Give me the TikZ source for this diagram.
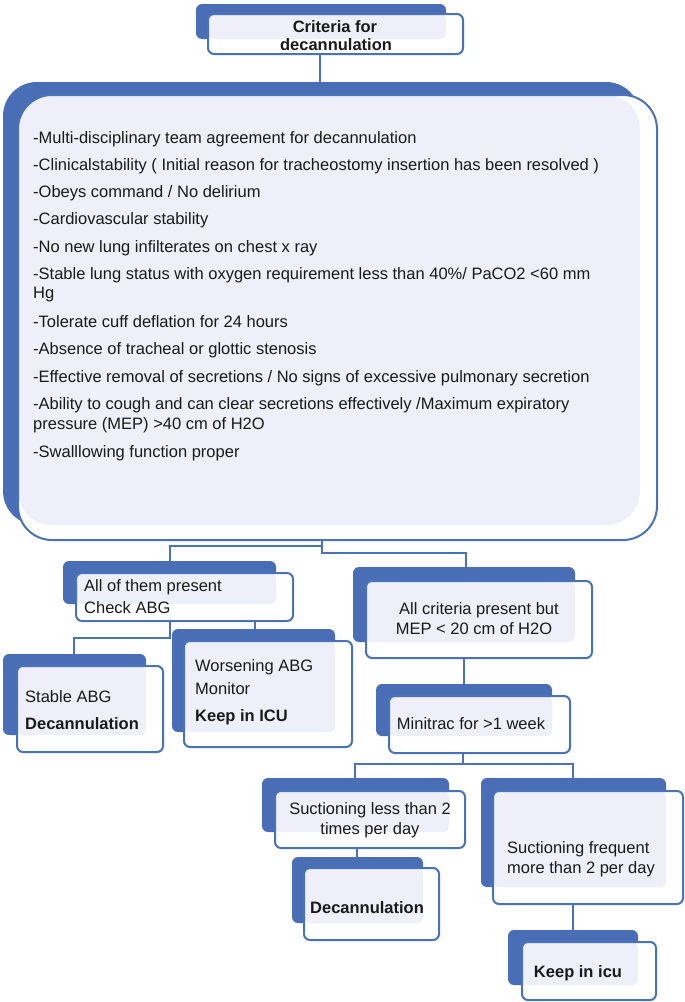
\documentclass[tikz,border=0pt]{standalone}
\usepackage{fontspec}
\setmainfont{Liberation Sans}
\usetikzlibrary{backgrounds}
\definecolor{boxblue}{HTML}{4A6EB5}
\definecolor{bordblue}{HTML}{4A72B9}
\definecolor{lav}{HTML}{EEEFF9}
\definecolor{ink}{HTML}{1A1A1A}
\tikzset{
  bord/.style={draw=bordblue, line width=2pt},
  conn/.style={draw=bordblue, line width=2pt},
  txt/.style={inner sep=0pt, text=ink, font=\fontsize{16.5}{19}\selectfont},
  btxt/.style={txt, font=\fontsize{16.5}{19}\selectfont\bfseries},
}
\newcommand\dbox[6]{%
  \path #2 coordinate (#1-bnw) #3 coordinate (#1-bse) #4 coordinate (#1-nw) #5 coordinate (#1-se);
  \fill[boxblue, rounded corners=#6] (#1-bnw) rectangle (#1-bse);
  \fill[white, rounded corners=#6] (#1-nw) rectangle (#1-se);
  \fill[lav, rounded corners=#6] (#1-nw) rectangle (#1-bse);
  \draw[bord, rounded corners=#6] (#1-nw) rectangle (#1-se);
}
\begin{document}
\begin{tikzpicture}[x=1pt,y=-1pt]
\useasboundingbox (0,0) rectangle (685,1002);

% boxes
\dbox{top}{(196,4)}{(446,39)}{(208,14)}{(463,54)}{6}
\dbox{big}{(3,82)}{(640,525)}{(18,95)}{(657,540)}{34}
\dbox{all}{(63,561)}{(276,604)}{(76,573)}{(293,621)}{6}
\dbox{stable}{(3,654)}{(146,735)}{(17,666)}{(163,752)}{6}
\dbox{worse}{(172,629)}{(335,732)}{(184,641)}{(352,747)}{6}
\dbox{mep}{(353,567)}{(575,642)}{(366,581)}{(592,658)}{6}
\dbox{mini}{(376,684)}{(552,736)}{(389,696)}{(570,753)}{6}
\dbox{sless}{(262,778)}{(449,832)}{(275,791)}{(465,848)}{6}
\dbox{sdec}{(292,857)}{(423,923)}{(304,868)}{(439,940)}{6}
\dbox{sfreq}{(481,778)}{(666,887)}{(493,791)}{(683,904)}{6}
\dbox{kicu}{(508,930)}{(638,985)}{(522,942)}{(656,1000)}{6}

% texts
\node[btxt, anchor=base] (t1) at (335,32) {Criteria for};
\node[btxt, anchor=base] (t2) at (336,50) {decannulation};

\node[txt, anchor=base west] (c1) at (33,143) {-Multi-disciplinary team agreement for decannulation};
\node[txt, anchor=base west] (c2) at (33,170) {-Clinicalstability ( Initial reason for tracheostomy insertion has been resolved )};
\node[txt, anchor=base west] (c3) at (33,197) {-Obeys command / No delirium};
\node[txt, anchor=base west] (c4) at (33,224) {-Cardiovascular stability};
\node[txt, anchor=base west] (c5) at (33,252) {-No new lung infilterates on chest x ray};
\node[txt, anchor=base west] (c6) at (33,279) {-Stable lung status with oxygen requirement less than 40\%/ PaCO2 <60 mm};
\node[txt, anchor=base west] (c6b) at (33,298) {Hg};
\node[txt, anchor=base west] (c7) at (33,327) {-Tolerate cuff deflation for 24 hours};
\node[txt, anchor=base west] (c8) at (33,354) {-Absence of tracheal or glottic stenosis};
\node[txt, anchor=base west] (c9) at (33,382) {-Effective removal of secretions / No signs of excessive pulmonary secretion};
\node[txt, anchor=base west] (c10) at (33,409) {-Ability to cough and can clear secretions effectively /Maximum expiratory};
\node[txt, anchor=base west] (c10b) at (33,429) {pressure (MEP) >40 cm of H2O};
\node[txt, anchor=base west] (c11) at (33,457) {-Swalllowing function proper};

\node[txt, anchor=base west] (a1) at (84,591) {All of them present};
\node[txt, anchor=base west] (a2) at (84,613) {Check ABG};

\node[txt, anchor=base west] (s1) at (25,702) {Stable ABG};
\node[btxt, anchor=base west] (s2) at (25,729) {Decannulation};

\node[txt, anchor=base west] (w1) at (195,671) {Worsening ABG};
\node[txt, anchor=base west] (w2) at (195,694) {Monitor};
\node[btxt, anchor=base west] (w3) at (195,721) {Keep in ICU};

\node[txt, anchor=base] (m1) at (479,614) {All criteria present but};
\node[txt, anchor=base] (m2) at (474,634) {MEP < 20 cm of H2O};

\node[txt, anchor=base] (n1) at (471,729) {Minitrac for >1 week};

\node[txt, anchor=base] (l1) at (370,814) {Suctioning less than 2};
\node[txt, anchor=base] (l2) at (370,834) {times per day};

\node[btxt, anchor=base] (d1) at (367,913) {Decannulation};

\node[txt, anchor=base west] (f1) at (507,853) {Suctioning frequent};
\node[txt, anchor=base west] (f2) at (507,873) {more than 2 per day};

\node[btxt, anchor=base] (k1) at (578,977) {Keep in icu};

% connector points
\coordinate (p0a) at (320,54);
\coordinate (p0b) at (320,82);
\coordinate (pb0) at (322,528);
\coordinate (pb1) at (322,546);
\coordinate (pb2) at (322,553);
\coordinate (pbL) at (170,561);
\coordinate (pbR) at (466,567);
\coordinate (pa0) at (170,613);
\coordinate (pa1) at (170,638);
\coordinate (paL) at (74,654);
\coordinate (paR) at (255,629);
\coordinate (pm0) at (464,658);
\coordinate (pm1) at (464,684);
\coordinate (pn0) at (463,753);
\coordinate (pn1) at (463,764);
\coordinate (pnL) at (355,778);
\coordinate (pnR) at (573,778);
\coordinate (pl0) at (357,848);
\coordinate (pl1) at (357,857);
\coordinate (pf0) at (573,904);
\coordinate (pf1) at (573,930);

\begin{scope}[on background layer]
\fill[white] (0,0) rectangle (685,1002);
\draw[conn] (p0a) -- (p0b);
\draw[conn] (pb0) -- (pb1) -| (pbL);
\draw[conn] (pb1) -- (pb2) -| (pbR);
\draw[conn] (pa0) -- (pa1) -| (paL);
\draw[conn] (pa0) -| (paR);
\draw[conn] (pm0) -- (pm1);
\draw[conn] (pn0) -- (pn1);
\draw[conn] (pn1) -| (pnL);
\draw[conn] (pn1) -| (pnR);
\draw[conn] (pl0) -- (pl1);
\draw[conn] (pf0) -- (pf1);
\end{scope}
\end{tikzpicture}
\end{document}
